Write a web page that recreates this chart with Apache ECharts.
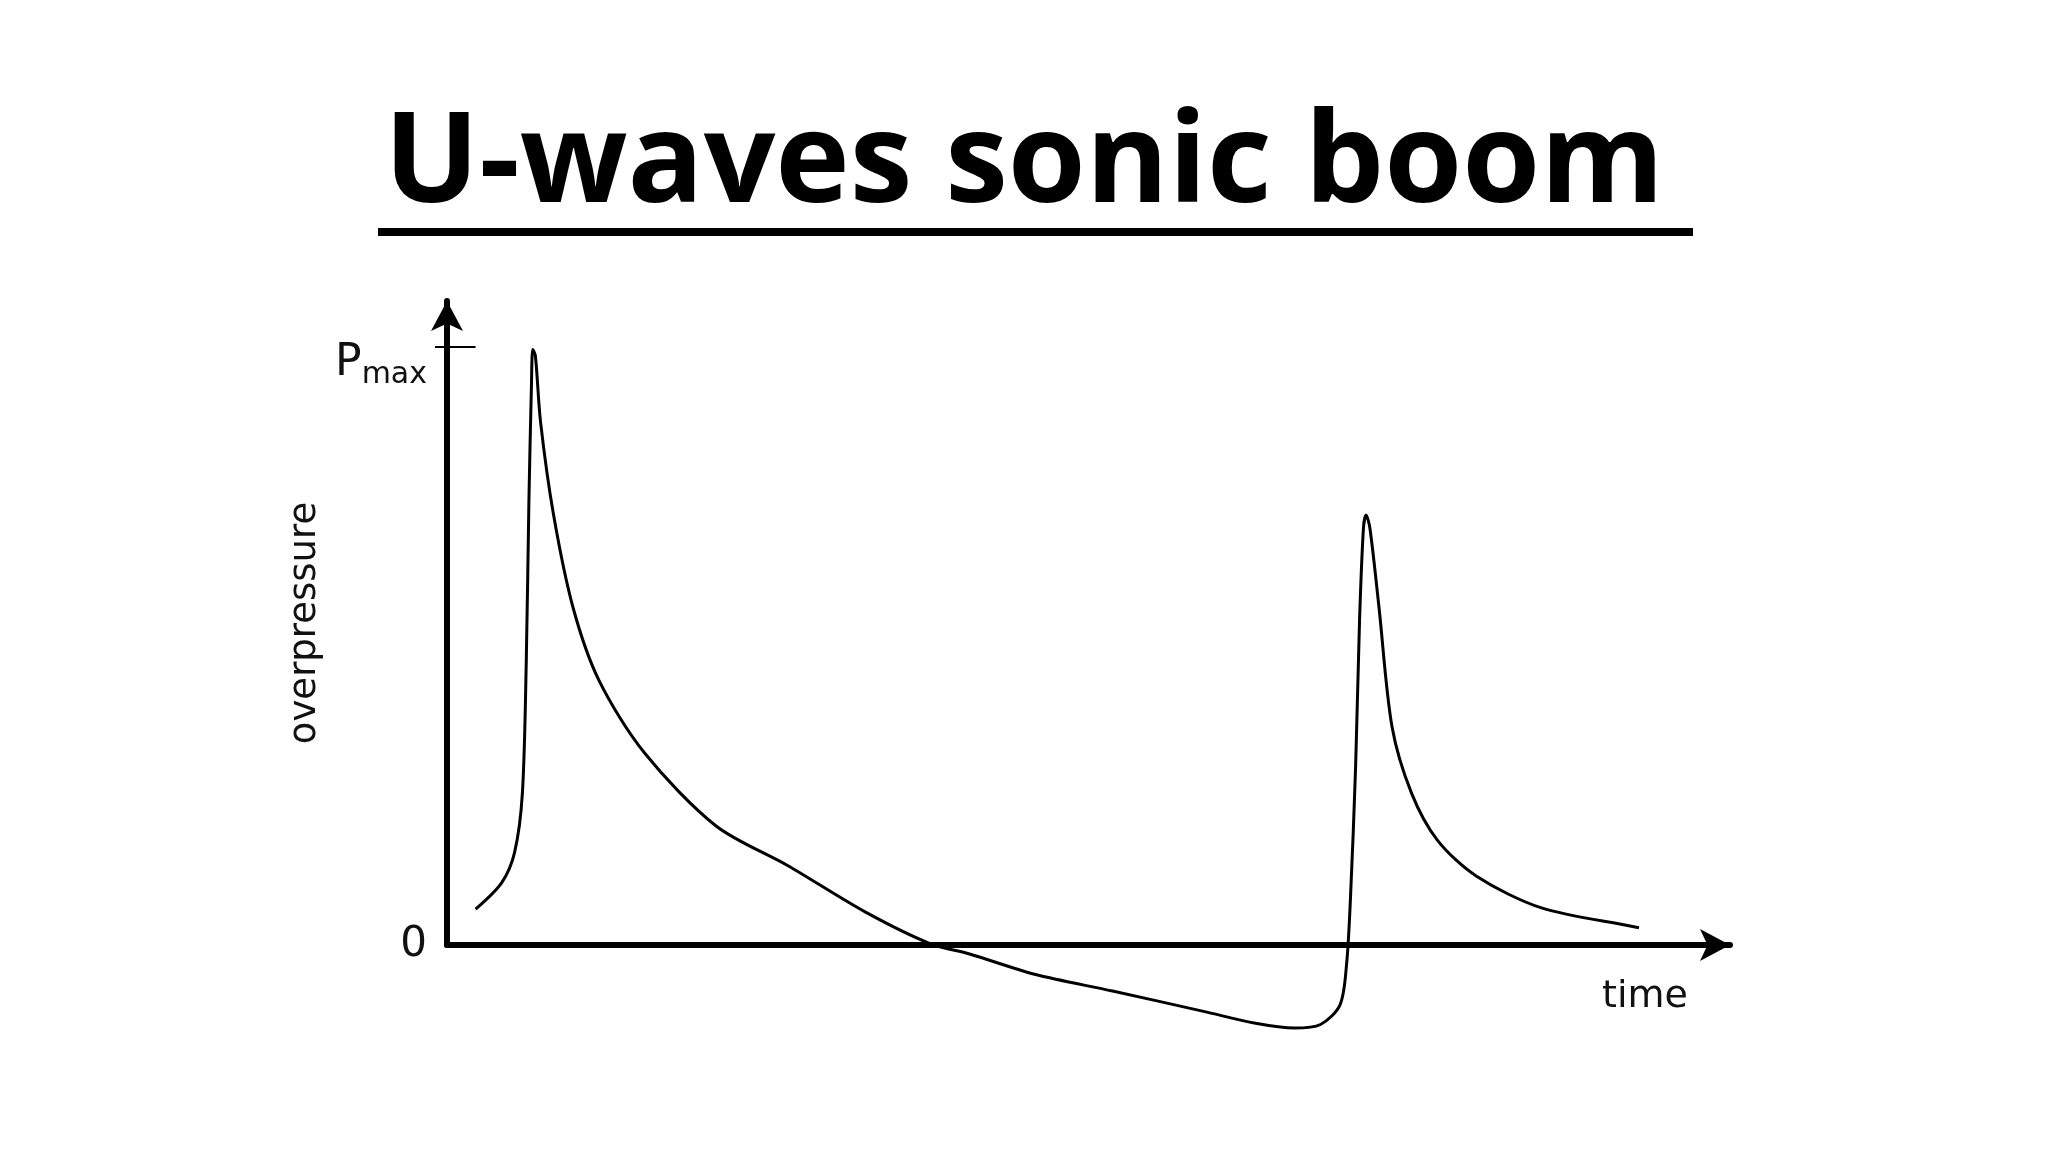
<!DOCTYPE html>
<html>
<head>
<meta charset="utf-8">
<script src="https://cdn.jsdelivr.net/npm/echarts@6/dist/echarts.min.js"></script>
<style>html,body{margin:0;padding:0;background:#fff}#chart{width:2048px;height:1152px}</style>
</head>
<body>
<div id="chart"></div>
<script>
// time (arbitrary units) and overpressure (fraction of Pmax)
var timeVals = [22, 42, 52, 58, 61, 63, 65, 66, 68, 72, 82, 97, 117, 152, 207, 262, 322, 372, 402, 452, 512, 582, 622, 652, 672, 687, 692, 695, 699, 702, 705, 707, 710, 717, 727, 742, 762, 792, 842, 912, 917];
var pressVals = [0.06, 0.104, 0.155, 0.254, 0.476, 0.741, 0.940, 0.996, 0.985, 0.874, 0.719, 0.564, 0.442, 0.321, 0.199, 0.133, 0.055, 0.002, -0.015, -0.049, -0.077, -0.111, -0.131, -0.139, -0.133, -0.100, -0.033, 0.077, 0.299, 0.542, 0.697, 0.719, 0.697, 0.564, 0.365, 0.254, 0.175, 0.115, 0.062, 0.031, 0.029];
var yLabels = {0: '{n|0}', 1: '{p|P}{s|max}'};

var curve = timeVals.map(function (t, i) { return [t, pressVals[i]]; });

var dom = document.getElementById('chart');
var myChart = echarts.init(dom);

var option = {
    backgroundColor: '#fff',
    animation: false,
    grid: { left: 447, right: 318, top: 301, bottom: 207 },
    graphic: [
        {
            type: 'text', left: 'center', top: 103,
            style: { text: 'U-waves sonic boom', font: 'bold 126px "Open Sans"', fill: '#000' }
        },
        {
            type: 'rect', shape: { x: 378, y: 228, width: 1315, height: 8 }, style: { fill: '#000' }
        },
        {
            type: 'text', left: 1602, top: 978,
            style: { text: 'time', font: '38px "DejaVu Sans"', fill: '#111' }
        }
    ],
    xAxis: {
        type: 'value', min: 0, max: 987,
        axisLine: { onZero: true, symbol: ['none', 'arrow'], symbolSize: [24, 30], lineStyle: { color: '#000', width: 6 } },
        axisTick: { show: false }, axisLabel: { show: false }, splitLine: { show: false }
    },
    yAxis: {
        type: 'value', min: 0, max: 1.077,
        name: 'overpressure', nameLocation: 'middle', nameRotate: 90, nameGap: -36,
        nameTextStyle: { fontFamily: 'DejaVu Sans', fontSize: 37, color: '#111', padding: [0, 0, 0, 0] },
        axisLine: { symbol: ['none', 'arrow'], symbolSize: [24, 30], lineStyle: { color: '#000', width: 6 } },
        axisTick: { show: true, customValues: [1], length: 12, lineStyle: { color: '#000', width: 2 } },
        splitLine: { show: false },
        axisLabel: {
            customValues: [0, 1], margin: 20,
            formatter: function (v) { return yLabels[v]; },
            rich: {
                n: { fontFamily: 'DejaVu Sans', fontSize: 42, color: '#111' },
                p: { fontFamily: 'DejaVu Sans', fontSize: 44, color: '#111', padding: [34, 0, 0, 0] },
                s: { fontFamily: 'DejaVu Sans', fontSize: 30, color: '#111', padding: [56, 0, 0, 0] }
            }
        }
    },
    series: [{
        type: 'line', data: curve, smooth: 0.3, symbol: 'none', clip: false,
        lineStyle: { color: '#000', width: 3 },
        markLine: {
            symbol: 'none', silent: true, label: { show: false },
            lineStyle: { color: '#000', width: 2, type: 'solid' },
            data: [[{ coord: [0, 1] }, { coord: [22, 1] }]]
        }
    }]
};

myChart.setOption(option);
</script>
</body>
</html>
